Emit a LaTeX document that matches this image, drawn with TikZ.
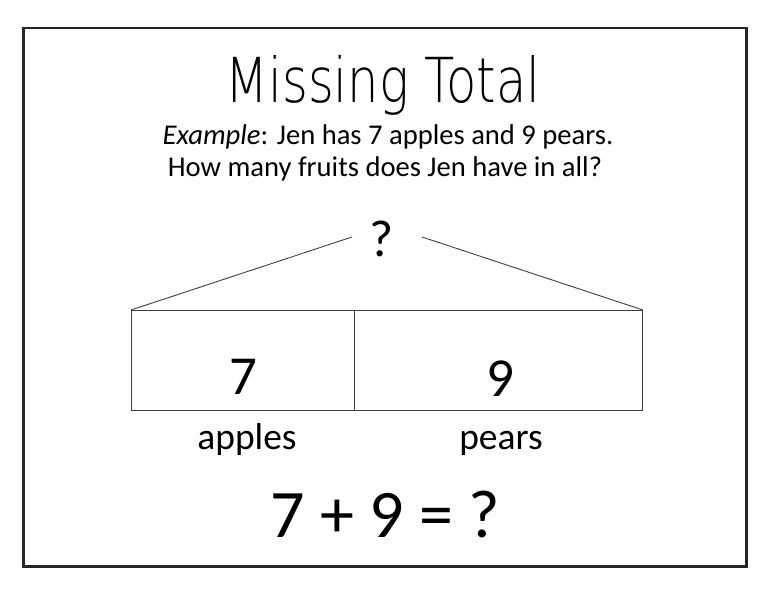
\documentclass[tikz,border=0pt]{standalone}
\usepackage{fontspec}
\setmainfont{Carlito}
\newfontfamily\titlefont[FakeStretch=0.8]{DejaVu Sans ExtraLight}
\begin{document}
\begin{tikzpicture}[x=1pt,y=-1pt,
  txt/.style={inner sep=0pt, anchor=base},
  part/.style={draw=black!75, line width=1pt, minimum height=100pt, inner sep=0pt},
  digit/.style={txt, font=\fontsize{55}{57}\selectfont},
  leg/.style={draw=black!75, line width=0.9pt},
  lbl/.style={txt, font=\fontsize{37.5}{40}\selectfont}]
\useasboundingbox (0,0) rectangle (768,593);
\node[draw=black!85, line width=2.5pt, minimum width=723pt, minimum height=538pt, inner sep=0pt, anchor=north west] (frame) at (22,27) {};
\node[txt, font=\titlefont\fontsize{62}{64}\selectfont] (title) at (383,103) {Missing Total};
\node[txt, font=\fontsize{28.6}{30}\selectfont] (l1) at (388,145) {\textit{Example}: Jen has 7 apples and 9 pears.};
\node[txt, font=\fontsize{28.6}{30}\selectfont] (l2) at (385,177) {How many fruits does Jen have in all?};
\node[part, minimum width=223pt, anchor=north west] (apples) at (131,310) {};
\node[part, minimum width=288pt, anchor=north west] (pears) at (354,310) {};
\node[digit] (n7) at (243,394) {7};
\node[digit] (n9) at (500,396) {9};
\node[txt, font=\fontsize{52}{54}\selectfont] (q) at (382,257) {?};
\coordinate (qL) at (352,237);
\coordinate (qR) at (422,237);
\draw[leg] (apples.north west) -- (qL);
\draw[leg] (qR) -- (pears.north east);
\node[lbl] (la) at (247,449) {apples};
\node[lbl] (lp) at (501,449) {pears};
\node[txt, font=\fontsize{68}{70}\selectfont] (eq) at (385,537) {7 + 9 = ?};
\end{tikzpicture}
\end{document}
